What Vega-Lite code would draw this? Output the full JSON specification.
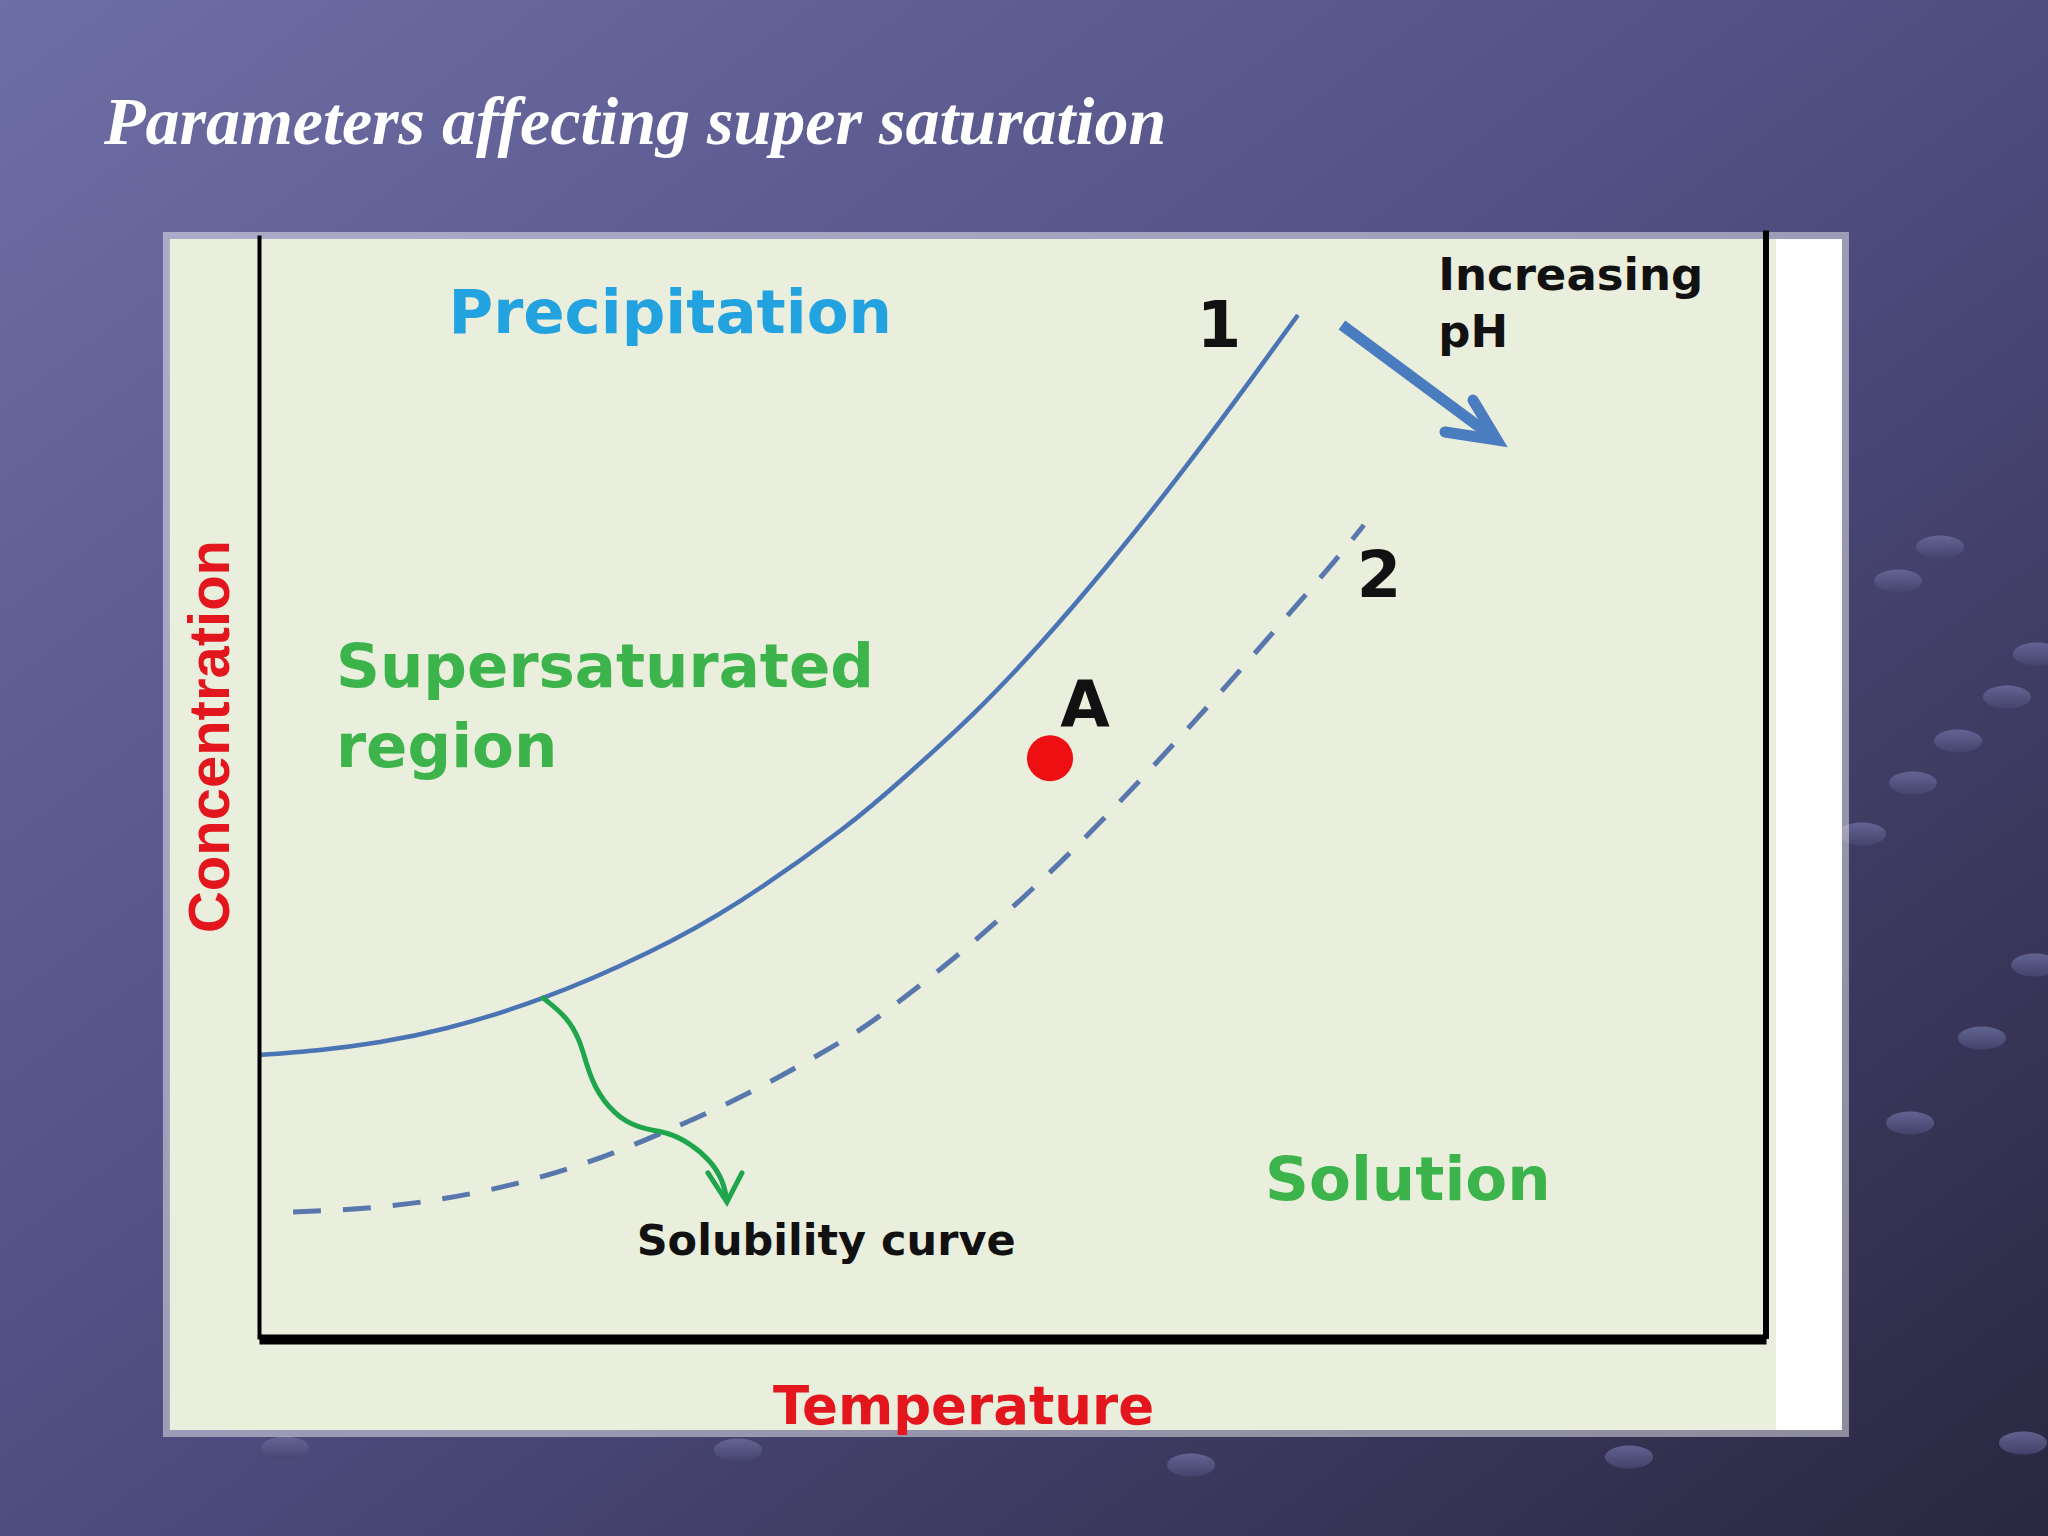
{
  "$schema": "https://vega.github.io/schema/vega-lite/v6.json",
  "width": 1507,
  "height": 1104,
  "autosize": {"type": "none"},
  "padding": {"left": 259, "top": 235, "right": 282, "bottom": 197},
  "background": "#4a4878",
  "config": {
    "view": {"stroke": null},
    "axis": {"ticks": false, "labels": false, "grid": false, "domainColor": "#000000", "zindex": 1}
  },
  "datasets": {
    "decor": [
      {"temperature": 111.55, "concentration": 71.74},
      {"temperature": 108.76, "concentration": 68.66},
      {"temperature": 117.98, "concentration": 62.05},
      {"temperature": 115.99, "concentration": 58.15},
      {"temperature": 112.74, "concentration": 54.17},
      {"temperature": 109.75, "concentration": 50.36},
      {"temperature": 106.37, "concentration": 45.74},
      {"temperature": 117.85, "concentration": 33.88},
      {"temperature": 114.33, "concentration": 27.26},
      {"temperature": 109.56, "concentration": 19.57},
      {"temperature": 117.05, "concentration": -9.42},
      {"temperature": 1.73, "concentration": -9.87},
      {"temperature": 31.78, "concentration": -10.05},
      {"temperature": 61.85, "concentration": -11.41},
      {"temperature": 90.91, "concentration": -10.69}
    ],
    "curve1": [
      {"temperature": 0.0, "concentration": 25.72},
      {"temperature": 4.05, "concentration": 26.18},
      {"temperature": 8.03, "concentration": 26.9},
      {"temperature": 12.48, "concentration": 28.17},
      {"temperature": 18.85, "concentration": 30.89},
      {"temperature": 25.75, "concentration": 34.96},
      {"temperature": 31.92, "concentration": 39.67},
      {"temperature": 38.55, "concentration": 46.01},
      {"temperature": 43.0, "concentration": 51.09},
      {"temperature": 47.38, "concentration": 56.61},
      {"temperature": 51.82, "concentration": 62.95},
      {"temperature": 56.27, "concentration": 70.02},
      {"temperature": 60.98, "concentration": 78.08},
      {"temperature": 65.76, "concentration": 86.78},
      {"temperature": 68.94, "concentration": 92.75}
    ],
    "curve2": [
      {"temperature": 2.26, "concentration": 11.5},
      {"temperature": 8.03, "concentration": 11.97},
      {"temperature": 14.66, "concentration": 13.33},
      {"temperature": 21.3, "concentration": 15.78},
      {"temperature": 26.81, "concentration": 18.71},
      {"temperature": 32.38, "concentration": 22.21},
      {"temperature": 37.89, "concentration": 26.35},
      {"temperature": 41.21, "concentration": 29.29},
      {"temperature": 45.45, "concentration": 33.76},
      {"temperature": 49.83, "concentration": 38.9},
      {"temperature": 54.21, "concentration": 44.58},
      {"temperature": 58.66, "concentration": 50.9},
      {"temperature": 63.3, "concentration": 57.81},
      {"temperature": 67.75, "concentration": 64.73},
      {"temperature": 71.27, "concentration": 70.3},
      {"temperature": 73.32, "concentration": 73.73}
    ],
    "solubilityArrow": [
      {"temperature": 18.85, "concentration": 30.89},
      {"temperature": 20.44, "concentration": 29.17},
      {"temperature": 21.3, "concentration": 27.08},
      {"temperature": 21.77, "concentration": 24.64},
      {"temperature": 22.43, "concentration": 22.28},
      {"temperature": 23.95, "concentration": 19.84},
      {"temperature": 25.75, "concentration": 18.93},
      {"temperature": 27.07, "concentration": 18.75},
      {"temperature": 28.6, "concentration": 17.75},
      {"temperature": 29.93, "concentration": 16.21},
      {"temperature": 30.79, "concentration": 14.4},
      {"temperature": 31.05, "concentration": 12.59}
    ],
    "solubilityArrowHead": [
      {"temperature": 29.79, "concentration": 15.04, "step": 1},
      {"temperature": 31.05, "concentration": 12.41, "step": 2},
      {"temperature": 32.05, "concentration": 15.04, "step": 3}
    ],
    "phArrow": [
      {"temperature": 71.86, "concentration": 91.85, "step": 1},
      {"temperature": 82.15, "concentration": 81.43, "step": 2}
    ],
    "phArrowHead": [
      {"temperature": 80.56, "concentration": 85.05, "step": 1},
      {"temperature": 82.15, "concentration": 81.43, "step": 2},
      {"temperature": 78.7, "concentration": 82.16, "step": 3}
    ],
    "pointA": [
      {"temperature": 52.49, "concentration": 52.6}
    ],
    "labelsBlue": [
      {"text": "Precipitation", "temperature": 12.57, "concentration": 91.09}
    ],
    "labelsGreen": [
      {"text": "Supersaturated", "temperature": 5.11, "concentration": 59.09},
      {"text": "region", "temperature": 5.11, "concentration": 51.8},
      {"text": "Solution", "temperature": 66.76, "concentration": 12.55}
    ],
    "labelsCurve": [
      {"text": "1", "temperature": 63.7, "concentration": 89.88},
      {"text": "2", "temperature": 74.32, "concentration": 67.24},
      {"text": "A", "temperature": 54.81, "concentration": 55.46}
    ],
    "labelsPh": [
      {"text": "Increasing", "temperature": 78.25, "concentration": 95.02},
      {"text": "pH", "temperature": 78.25, "concentration": 89.88}
    ],
    "labelsSolubility": [
      {"text": "Solubility curve", "temperature": 25.06, "concentration": 7.61}
    ],
    "slideTitle": [
      {"text": "Parameters affecting super saturation", "temperature": -10.29, "concentration": 108.24}
    ]
  },
  "layer": [
    {
      "data": {"values": [{}]},
      "mark": {
        "type": "rect",
        "clip": false,
        "fill": {
          "gradient": "linear", "x1": 0, "y1": 0, "x2": 1, "y2": 1,
          "stops": [
            {"offset": 0, "color": "#6e6ea6"},
            {"offset": 0.5, "color": "#4f4d80"},
            {"offset": 1, "color": "#2a2740"}
          ]
        }
      },
      "encoding": {
        "x": {"datum": -17.19, "type": "quantitative", "scale": {"domain": [0, 100], "nice": false, "zero": false}},
        "x2": {"datum": 118.72},
        "y": {"datum": -17.85, "type": "quantitative", "scale": {"domain": [0, 100], "nice": false, "zero": false}},
        "y2": {"datum": 121.3}
      }
    },
    {
      "data": {"name": "decor"},
      "mark": {
        "type": "point", "clip": false, "filled": true, "opacity": 0.85, "size": 2300,
        "shape": "M -1 0 A 1 0.48 0 1 0 1 0 A 1 0.48 0 1 0 -1 0 Z",
        "fill": {
          "gradient": "linear", "x1": 0, "y1": 0, "x2": 0, "y2": 1,
          "stops": [
            {"offset": 0, "color": "#6a6b9c"},
            {"offset": 1, "color": "#45456f"}
          ]
        }
      },
      "encoding": {
        "x": {"field": "temperature", "type": "quantitative", "scale": {"domain": [0, 100], "nice": false, "zero": false}},
        "y": {"field": "concentration", "type": "quantitative", "scale": {"domain": [0, 100], "nice": false, "zero": false}}
      }
    },
    {
      "data": {"values": [{}]},
      "mark": {"type": "rect", "clip": false, "fill": "#ffffff", "stroke": "#ffffff", "strokeWidth": 14, "strokeOpacity": 0.45},
      "encoding": {
        "x": {"datum": -5.91, "type": "quantitative", "scale": {"domain": [0, 100], "nice": false, "zero": false}},
        "x2": {"datum": 105.04},
        "y": {"datum": -8.24, "type": "quantitative", "scale": {"domain": [0, 100], "nice": false, "zero": false}},
        "y2": {"datum": 99.64}
      }
    },
    {
      "data": {"values": [{}]},
      "mark": {"type": "rect", "clip": false, "fill": "#eaeedc"},
      "encoding": {
        "x": {"datum": -5.91, "type": "quantitative", "scale": {"domain": [0, 100], "nice": false, "zero": false}},
        "x2": {"datum": 100.66},
        "y": {"datum": -8.24, "type": "quantitative", "scale": {"domain": [0, 100], "nice": false, "zero": false}},
        "y2": {"datum": 99.64}
      }
    },
    {
      "data": {"values": [{}]},
      "mark": {"type": "rule", "clip": false, "color": "#000000", "strokeWidth": 6},
      "encoding": {
        "x": {"datum": 100, "type": "quantitative", "scale": {"domain": [0, 100], "nice": false, "zero": false}},
        "y": {"datum": 0, "type": "quantitative", "scale": {"domain": [0, 100], "nice": false, "zero": false}},
        "y2": {"datum": 100.4}
      }
    },
    {
      "data": {"name": "curve2"},
      "mark": {"type": "line", "clip": false, "interpolate": "natural", "color": "#5878ad", "strokeWidth": 5, "strokeDash": [28, 22]},
      "encoding": {
        "x": {"field": "temperature", "type": "quantitative", "scale": {"domain": [0, 100], "nice": false, "zero": false}},
        "y": {"field": "concentration", "type": "quantitative", "scale": {"domain": [0, 100], "nice": false, "zero": false}}
      }
    },
    {
      "data": {"name": "curve1"},
      "mark": {"type": "line", "clip": false, "interpolate": "natural", "color": "#4a74b3", "strokeWidth": 4.5},
      "encoding": {
        "x": {
          "field": "temperature", "type": "quantitative",
          "scale": {"domain": [0, 100], "nice": false, "zero": false},
          "axis": {
            "title": "Temperature", "zindex": 1, "domainColor": "#000000", "domainWidth": 10,
            "ticks": false, "labels": false, "grid": false,
            "titleFont": "DejaVu Sans", "titleFontWeight": "bold", "titleFontSize": 53, "titleColor": "#e3161e",
            "titleX": 704, "titleY": 84, "titleAlign": "center", "titleBaseline": "alphabetic"
          }
        },
        "y": {
          "field": "concentration", "type": "quantitative",
          "scale": {"domain": [0, 100], "nice": false, "zero": false},
          "axis": {
            "title": "Concentration", "zindex": 1, "domainColor": "#000000", "domainWidth": 4,
            "ticks": false, "labels": false, "grid": false,
            "titleFont": "Liberation Sans", "titleFontWeight": "bold", "titleFontSize": 58, "titleColor": "#e3161e",
            "titleAngle": 270, "titleX": -31, "titleY": 501, "titleAlign": "center", "titleBaseline": "alphabetic"
          }
        }
      }
    },
    {
      "data": {"name": "solubilityArrow"},
      "mark": {"type": "line", "clip": false, "interpolate": "basis", "color": "#1fa64c", "strokeWidth": 5, "strokeCap": "round"},
      "encoding": {
        "x": {"field": "temperature", "type": "quantitative", "scale": {"domain": [0, 100], "nice": false, "zero": false}},
        "y": {"field": "concentration", "type": "quantitative", "scale": {"domain": [0, 100], "nice": false, "zero": false}}
      }
    },
    {
      "data": {"name": "solubilityArrowHead"},
      "mark": {"type": "line", "clip": false, "color": "#1fa64c", "strokeWidth": 5, "strokeJoin": "miter", "strokeCap": "round"},
      "encoding": {
        "x": {"field": "temperature", "type": "quantitative", "scale": {"domain": [0, 100], "nice": false, "zero": false}},
        "y": {"field": "concentration", "type": "quantitative", "scale": {"domain": [0, 100], "nice": false, "zero": false}},
        "order": {"field": "step", "type": "quantitative"}
      }
    },
    {
      "data": {"name": "phArrow"},
      "mark": {"type": "line", "clip": false, "color": "#4a7cc0", "strokeWidth": 11, "strokeCap": "butt"},
      "encoding": {
        "x": {"field": "temperature", "type": "quantitative", "scale": {"domain": [0, 100], "nice": false, "zero": false}},
        "y": {"field": "concentration", "type": "quantitative", "scale": {"domain": [0, 100], "nice": false, "zero": false}},
        "order": {"field": "step", "type": "quantitative"}
      }
    },
    {
      "data": {"name": "phArrowHead"},
      "mark": {"type": "line", "clip": false, "color": "#4a7cc0", "strokeWidth": 11, "strokeJoin": "miter", "strokeCap": "round"},
      "encoding": {
        "x": {"field": "temperature", "type": "quantitative", "scale": {"domain": [0, 100], "nice": false, "zero": false}},
        "y": {"field": "concentration", "type": "quantitative", "scale": {"domain": [0, 100], "nice": false, "zero": false}},
        "order": {"field": "step", "type": "quantitative"}
      }
    },
    {
      "data": {"name": "pointA"},
      "mark": {"type": "point", "clip": false, "shape": "circle", "filled": true, "color": "#ee0f12", "opacity": 1, "size": 2124},
      "encoding": {
        "x": {"field": "temperature", "type": "quantitative", "scale": {"domain": [0, 100], "nice": false, "zero": false}},
        "y": {"field": "concentration", "type": "quantitative", "scale": {"domain": [0, 100], "nice": false, "zero": false}}
      }
    },
    {
      "data": {"name": "labelsBlue"},
      "mark": {"type": "text", "clip": false, "align": "left", "baseline": "alphabetic", "font": "DejaVu Sans", "fontWeight": "bold", "fontSize": 61, "color": "#22a3df"},
      "encoding": {
        "x": {"field": "temperature", "type": "quantitative", "scale": {"domain": [0, 100], "nice": false, "zero": false}},
        "y": {"field": "concentration", "type": "quantitative", "scale": {"domain": [0, 100], "nice": false, "zero": false}},
        "text": {"field": "text"}
      }
    },
    {
      "data": {"name": "labelsGreen"},
      "mark": {"type": "text", "clip": false, "align": "left", "baseline": "alphabetic", "font": "DejaVu Sans", "fontWeight": "bold", "fontSize": 61, "color": "#3cb44b"},
      "encoding": {
        "x": {"field": "temperature", "type": "quantitative", "scale": {"domain": [0, 100], "nice": false, "zero": false}},
        "y": {"field": "concentration", "type": "quantitative", "scale": {"domain": [0, 100], "nice": false, "zero": false}},
        "text": {"field": "text"}
      }
    },
    {
      "data": {"name": "labelsCurve"},
      "mark": {"type": "text", "clip": false, "align": "center", "baseline": "alphabetic", "font": "DejaVu Sans", "fontWeight": "bold", "fontSize": 64, "color": "#111111"},
      "encoding": {
        "x": {"field": "temperature", "type": "quantitative", "scale": {"domain": [0, 100], "nice": false, "zero": false}},
        "y": {"field": "concentration", "type": "quantitative", "scale": {"domain": [0, 100], "nice": false, "zero": false}},
        "text": {"field": "text"}
      }
    },
    {
      "data": {"name": "labelsPh"},
      "mark": {"type": "text", "clip": false, "align": "left", "baseline": "alphabetic", "font": "DejaVu Sans", "fontWeight": "bold", "fontSize": 45, "color": "#111111"},
      "encoding": {
        "x": {"field": "temperature", "type": "quantitative", "scale": {"domain": [0, 100], "nice": false, "zero": false}},
        "y": {"field": "concentration", "type": "quantitative", "scale": {"domain": [0, 100], "nice": false, "zero": false}},
        "text": {"field": "text"}
      }
    },
    {
      "data": {"name": "labelsSolubility"},
      "mark": {"type": "text", "clip": false, "align": "left", "baseline": "alphabetic", "font": "DejaVu Sans", "fontWeight": "bold", "fontSize": 43, "color": "#111111"},
      "encoding": {
        "x": {"field": "temperature", "type": "quantitative", "scale": {"domain": [0, 100], "nice": false, "zero": false}},
        "y": {"field": "concentration", "type": "quantitative", "scale": {"domain": [0, 100], "nice": false, "zero": false}},
        "text": {"field": "text"}
      }
    },
    {
      "data": {"name": "slideTitle"},
      "mark": {"type": "text", "clip": false, "align": "left", "baseline": "alphabetic", "font": "Liberation Serif", "fontStyle": "italic", "fontWeight": "bold", "fontSize": 68, "color": "#ffffff"},
      "encoding": {
        "x": {"field": "temperature", "type": "quantitative", "scale": {"domain": [0, 100], "nice": false, "zero": false}},
        "y": {"field": "concentration", "type": "quantitative", "scale": {"domain": [0, 100], "nice": false, "zero": false}},
        "text": {"field": "text"}
      }
    }
  ]
}
